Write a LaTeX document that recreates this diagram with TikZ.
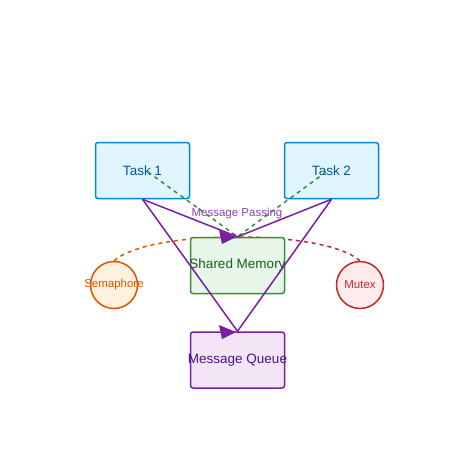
\documentclass[tikz,border=0pt]{standalone}
\usepackage{fontspec}
\setmainfont{Liberation Sans}
\definecolor{taskfill}{HTML}{E1F5FE}
\definecolor{taskdraw}{HTML}{0288D1}
\definecolor{tasktext}{HTML}{01579B}
\definecolor{smfill}{HTML}{E8F5E9}
\definecolor{smdraw}{HTML}{388E3C}
\definecolor{smtext}{HTML}{1B5E20}
\definecolor{mqfill}{HTML}{F3E5F5}
\definecolor{mqdraw}{HTML}{7B1FA2}
\definecolor{mqtext}{HTML}{4A148C}
\definecolor{semfill}{HTML}{FFF3E0}
\definecolor{semdraw}{HTML}{E65100}
\definecolor{mutfill}{HTML}{FFEBEE}
\definecolor{mutdraw}{HTML}{C62828}
\tikzset{
  boxbase/.style={rectangle, rounded corners=2.5pt, line width=1.5pt, minimum width=94pt, minimum height=56pt, inner sep=0pt},
  bigtext/.style={inner sep=0pt, font=\fontsize{13.5}{15}\selectfont},
  smalltext/.style={inner sep=0pt, font=\fontsize{11.5}{13}\selectfont},
  taskbox/.style={boxbase, fill=taskfill, draw=taskdraw},
  smbox/.style={boxbase, fill=smfill, draw=smdraw},
  mqbox/.style={boxbase, fill=mqfill, draw=mqdraw},
  circbase/.style={circle, line width=1.5pt, minimum size=47pt, inner sep=0pt},
  purp/.style={draw=mqdraw, line width=1.5pt},
  gdash/.style={draw=smdraw, line width=1.5pt, dash pattern=on 4pt off 4pt},
}
\begin{document}
\begin{tikzpicture}[x=1pt, y=-1pt]
\useasboundingbox (0,0) rectangle (474,474);
\coordinate (apex) at (237,237);
\node[circbase, fill=semfill, draw=semdraw] (sem) at (114,285) {};
\node[smalltext, text=semdraw] (semt) at (sem.center) {Semaphore};
\node[circbase, fill=mutfill, draw=mutdraw] (mut) at (360,285) {};
\node[smalltext, text=mutdraw] (mutt) at (mut.center) {Mutex};
\draw[semdraw, line width=1.5pt, dash pattern=on 4pt off 4pt] (sem.north) .. controls (135,243) and (190,237) .. (apex);
\draw[mutdraw, line width=1.5pt, dash pattern=on 4pt off 4pt] (mut.north) .. controls (339,243) and (284,237) .. (apex);
\node[smbox] (sm) at (237.5,265.5) {};
\node[bigtext, text=smtext] (smt) at (sm.center) {Shared Memory};
\node[mqbox] (mq) at (237.5,360) {};
\node[bigtext, text=mqtext] (mqt) at (mq.center) {Message Queue};
\node[taskbox] (t1) at (142.5,170.5) {};
\node[bigtext, text=tasktext] (t1t) at (t1.center) {Task 1};
\node[taskbox] (t2) at (331.5,170.5) {};
\node[bigtext, text=tasktext] (t2t) at (t2.center) {Task 2};
% green dashed
\coordinate (g1) at (148,172);
\coordinate (g2) at (326,172);
\draw[gdash] (g1) -- (sm.north);
\draw[gdash] (g2) -- (sm.north);
% purple lines
\draw[purp] (t1.south) -- (sm.north) -- (t2.south);
\draw[purp] (t1.south) -- (mq.north) -- (t2.south);
\fill[mqdraw] (236,237) -- (219,230) -- (222,244) -- cycle;
\fill[mqdraw] (236,332) -- (219,325) -- (222,339) -- cycle;
\node[smalltext, text=mqdraw!85!white] (lbl) at (237,214) {Message Passing};
\end{tikzpicture}
\end{document}
